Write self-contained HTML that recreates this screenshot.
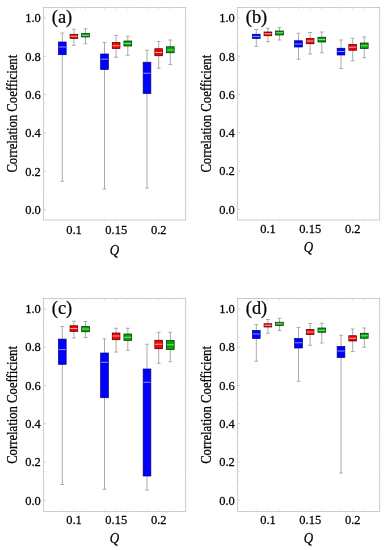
<!DOCTYPE html>
<html><head><meta charset="utf-8"><title>Boxplots</title>
<style>
html,body{margin:0;padding:0;background:#fff;}
svg{display:block;filter:blur(0.3px)}
text{font-family:"Liberation Serif","DejaVu Serif",serif;fill:#000;stroke:#000;stroke-width:0.24px;}
.t{font-size:12.5px}
.yl{font-size:12.7px}
.pl{font-size:18.4px}
.q{font-size:13px;font-style:italic}
</style></head><body>
<svg width="388" height="550" viewBox="0 0 388 550">
<rect width="388" height="550" fill="#fff"/>
<g id="panel-a">
<rect x="43.5" y="7.4" width="142.25" height="212.6" fill="none" stroke="#b2b2b2" stroke-width="0.65"/>
<line x1="43.5" x2="46.2" y1="209.5" y2="209.5" stroke="#d2d2d2" stroke-width="1"/>
<line x1="183.75" x2="185.75" y1="209.5" y2="209.5" stroke="#e2e2e2" stroke-width="1"/>
<line x1="43.5" x2="45.3" y1="199.93" y2="199.93" stroke="#e2e2e2" stroke-width="1"/>
<line x1="184.25" x2="185.75" y1="199.93" y2="199.93" stroke="#e2e2e2" stroke-width="1"/>
<line x1="43.5" x2="45.3" y1="190.35" y2="190.35" stroke="#e2e2e2" stroke-width="1"/>
<line x1="184.25" x2="185.75" y1="190.35" y2="190.35" stroke="#e2e2e2" stroke-width="1"/>
<line x1="43.5" x2="45.3" y1="180.78" y2="180.78" stroke="#e2e2e2" stroke-width="1"/>
<line x1="184.25" x2="185.75" y1="180.78" y2="180.78" stroke="#e2e2e2" stroke-width="1"/>
<line x1="43.5" x2="46.2" y1="171.2" y2="171.2" stroke="#d2d2d2" stroke-width="1"/>
<line x1="183.75" x2="185.75" y1="171.2" y2="171.2" stroke="#e2e2e2" stroke-width="1"/>
<line x1="43.5" x2="45.3" y1="161.62" y2="161.62" stroke="#e2e2e2" stroke-width="1"/>
<line x1="184.25" x2="185.75" y1="161.62" y2="161.62" stroke="#e2e2e2" stroke-width="1"/>
<line x1="43.5" x2="45.3" y1="152.05" y2="152.05" stroke="#e2e2e2" stroke-width="1"/>
<line x1="184.25" x2="185.75" y1="152.05" y2="152.05" stroke="#e2e2e2" stroke-width="1"/>
<line x1="43.5" x2="45.3" y1="142.48" y2="142.48" stroke="#e2e2e2" stroke-width="1"/>
<line x1="184.25" x2="185.75" y1="142.48" y2="142.48" stroke="#e2e2e2" stroke-width="1"/>
<line x1="43.5" x2="46.2" y1="132.9" y2="132.9" stroke="#d2d2d2" stroke-width="1"/>
<line x1="183.75" x2="185.75" y1="132.9" y2="132.9" stroke="#e2e2e2" stroke-width="1"/>
<line x1="43.5" x2="45.3" y1="123.33" y2="123.33" stroke="#e2e2e2" stroke-width="1"/>
<line x1="184.25" x2="185.75" y1="123.33" y2="123.33" stroke="#e2e2e2" stroke-width="1"/>
<line x1="43.5" x2="45.3" y1="113.75" y2="113.75" stroke="#e2e2e2" stroke-width="1"/>
<line x1="184.25" x2="185.75" y1="113.75" y2="113.75" stroke="#e2e2e2" stroke-width="1"/>
<line x1="43.5" x2="45.3" y1="104.18" y2="104.18" stroke="#e2e2e2" stroke-width="1"/>
<line x1="184.25" x2="185.75" y1="104.18" y2="104.18" stroke="#e2e2e2" stroke-width="1"/>
<line x1="43.5" x2="46.2" y1="94.6" y2="94.6" stroke="#d2d2d2" stroke-width="1"/>
<line x1="183.75" x2="185.75" y1="94.6" y2="94.6" stroke="#e2e2e2" stroke-width="1"/>
<line x1="43.5" x2="45.3" y1="85.03" y2="85.03" stroke="#e2e2e2" stroke-width="1"/>
<line x1="184.25" x2="185.75" y1="85.03" y2="85.03" stroke="#e2e2e2" stroke-width="1"/>
<line x1="43.5" x2="45.3" y1="75.45" y2="75.45" stroke="#e2e2e2" stroke-width="1"/>
<line x1="184.25" x2="185.75" y1="75.45" y2="75.45" stroke="#e2e2e2" stroke-width="1"/>
<line x1="43.5" x2="45.3" y1="65.88" y2="65.88" stroke="#e2e2e2" stroke-width="1"/>
<line x1="184.25" x2="185.75" y1="65.88" y2="65.88" stroke="#e2e2e2" stroke-width="1"/>
<line x1="43.5" x2="46.2" y1="56.3" y2="56.3" stroke="#d2d2d2" stroke-width="1"/>
<line x1="183.75" x2="185.75" y1="56.3" y2="56.3" stroke="#e2e2e2" stroke-width="1"/>
<line x1="43.5" x2="45.3" y1="46.73" y2="46.73" stroke="#e2e2e2" stroke-width="1"/>
<line x1="184.25" x2="185.75" y1="46.73" y2="46.73" stroke="#e2e2e2" stroke-width="1"/>
<line x1="43.5" x2="45.3" y1="37.15" y2="37.15" stroke="#e2e2e2" stroke-width="1"/>
<line x1="184.25" x2="185.75" y1="37.15" y2="37.15" stroke="#e2e2e2" stroke-width="1"/>
<line x1="43.5" x2="45.3" y1="27.58" y2="27.58" stroke="#e2e2e2" stroke-width="1"/>
<line x1="184.25" x2="185.75" y1="27.58" y2="27.58" stroke="#e2e2e2" stroke-width="1"/>
<line x1="43.5" x2="46.2" y1="18" y2="18" stroke="#d2d2d2" stroke-width="1"/>
<line x1="183.75" x2="185.75" y1="18" y2="18" stroke="#e2e2e2" stroke-width="1"/>
<line x1="62.3" x2="62.3" y1="218" y2="220" stroke="#e2e2e2" stroke-width="1"/>
<line x1="62.3" x2="62.3" y1="7.4" y2="9.4" stroke="#e2e2e2" stroke-width="1"/>
<line x1="73.9" x2="73.9" y1="218" y2="220" stroke="#e2e2e2" stroke-width="1"/>
<line x1="73.9" x2="73.9" y1="7.4" y2="9.4" stroke="#e2e2e2" stroke-width="1"/>
<line x1="85.5" x2="85.5" y1="218" y2="220" stroke="#e2e2e2" stroke-width="1"/>
<line x1="85.5" x2="85.5" y1="7.4" y2="9.4" stroke="#e2e2e2" stroke-width="1"/>
<line x1="104.5" x2="104.5" y1="218" y2="220" stroke="#e2e2e2" stroke-width="1"/>
<line x1="104.5" x2="104.5" y1="7.4" y2="9.4" stroke="#e2e2e2" stroke-width="1"/>
<line x1="116.1" x2="116.1" y1="218" y2="220" stroke="#e2e2e2" stroke-width="1"/>
<line x1="116.1" x2="116.1" y1="7.4" y2="9.4" stroke="#e2e2e2" stroke-width="1"/>
<line x1="127.8" x2="127.8" y1="218" y2="220" stroke="#e2e2e2" stroke-width="1"/>
<line x1="127.8" x2="127.8" y1="7.4" y2="9.4" stroke="#e2e2e2" stroke-width="1"/>
<line x1="147" x2="147" y1="218" y2="220" stroke="#e2e2e2" stroke-width="1"/>
<line x1="147" x2="147" y1="7.4" y2="9.4" stroke="#e2e2e2" stroke-width="1"/>
<line x1="158.7" x2="158.7" y1="218" y2="220" stroke="#e2e2e2" stroke-width="1"/>
<line x1="158.7" x2="158.7" y1="7.4" y2="9.4" stroke="#e2e2e2" stroke-width="1"/>
<line x1="170.3" x2="170.3" y1="218" y2="220" stroke="#e2e2e2" stroke-width="1"/>
<line x1="170.3" x2="170.3" y1="7.4" y2="9.4" stroke="#e2e2e2" stroke-width="1"/>
<text class="t" transform="translate(40.8 213.8) scale(1 1.05)" text-anchor="end">0.0</text>
<text class="t" transform="translate(40.8 175.5) scale(1 1.05)" text-anchor="end">0.2</text>
<text class="t" transform="translate(40.8 137.2) scale(1 1.05)" text-anchor="end">0.4</text>
<text class="t" transform="translate(40.8 98.9) scale(1 1.05)" text-anchor="end">0.6</text>
<text class="t" transform="translate(40.8 60.6) scale(1 1.05)" text-anchor="end">0.8</text>
<text class="t" transform="translate(40.8 22.3) scale(1 1.05)" text-anchor="end">1.0</text>
<text class="t" transform="translate(74 234.3) scale(1 1.08)" text-anchor="middle">0.1</text>
<text class="t" transform="translate(116.2 234.3) scale(1 1.08)" text-anchor="middle">0.15</text>
<text class="t" transform="translate(158.8 234.3) scale(1 1.08)" text-anchor="middle">0.2</text>
<text class="q" transform="translate(114.5 254.8) scale(1 1.05)" text-anchor="middle">Q</text>
<text class="yl" transform=" translate(17.4 113.7) rotate(-90) scale(1 1.1)" text-anchor="middle">Correlation Coefficient</text>
<text class="pl" x="51.8" y="23">(a)</text>
<path d="M62.3 33V181.25M60.4 33H64.2M60.4 181.25H64.2" stroke="#ababab" stroke-width="1" fill="none"/>
<rect x="58.45" y="42" width="7.7" height="12.7" fill="#0000ff" stroke="#00007a" stroke-width="0.7"/>
<line x1="58.75" x2="65.85" y1="47" y2="47" stroke="#b4bcff" stroke-width="0.8"/>
<path d="M73.9 29.2V45.3M72 29.2H75.8M72 45.3H75.8" stroke="#ababab" stroke-width="1" fill="none"/>
<rect x="70.05" y="34.3" width="7.7" height="4.1" fill="#ff0000" stroke="#3a0000" stroke-width="0.7"/>
<line x1="70.35" x2="77.45" y1="36.3" y2="36.3" stroke="#ffd0d0" stroke-width="0.8"/>
<path d="M85.5 28.8V43.8M83.6 28.8H87.4M83.6 43.8H87.4" stroke="#ababab" stroke-width="1" fill="none"/>
<rect x="81.65" y="33.5" width="7.7" height="3.5" fill="#00a800" stroke="#002400" stroke-width="0.7"/>
<line x1="81.95" x2="89.05" y1="35.3" y2="35.3" stroke="#a0e8a0" stroke-width="0.8"/>
<path d="M104.5 42.5V189M102.6 42.5H106.4M102.6 189H106.4" stroke="#ababab" stroke-width="1" fill="none"/>
<rect x="100.65" y="54" width="7.7" height="15.5" fill="#0000ff" stroke="#00007a" stroke-width="0.7"/>
<line x1="100.95" x2="108.05" y1="59.2" y2="59.2" stroke="#b4bcff" stroke-width="0.8"/>
<path d="M116.1 35.5V57.25M114.2 35.5H118M114.2 57.25H118" stroke="#ababab" stroke-width="1" fill="none"/>
<rect x="112.25" y="42.5" width="7.7" height="6" fill="#ff0000" stroke="#3a0000" stroke-width="0.7"/>
<line x1="112.55" x2="119.65" y1="45.7" y2="45.7" stroke="#ffd0d0" stroke-width="0.8"/>
<path d="M127.8 36.25V55.25M125.9 36.25H129.7M125.9 55.25H129.7" stroke="#ababab" stroke-width="1" fill="none"/>
<rect x="123.95" y="41" width="7.7" height="5" fill="#00a800" stroke="#002400" stroke-width="0.7"/>
<line x1="124.25" x2="131.35" y1="43.5" y2="43.5" stroke="#a0e8a0" stroke-width="0.8"/>
<path d="M147 50.25V188M145.1 50.25H148.9M145.1 188H148.9" stroke="#ababab" stroke-width="1" fill="none"/>
<rect x="143.15" y="62.25" width="7.7" height="31.25" fill="#0000ff" stroke="#00007a" stroke-width="0.7"/>
<line x1="143.45" x2="150.55" y1="73.25" y2="73.25" stroke="#b4bcff" stroke-width="0.8"/>
<path d="M158.7 41.5V68.25M156.8 41.5H160.6M156.8 68.25H160.6" stroke="#ababab" stroke-width="1" fill="none"/>
<rect x="154.85" y="48.75" width="7.7" height="7" fill="#ff0000" stroke="#3a0000" stroke-width="0.7"/>
<line x1="155.15" x2="162.25" y1="52.5" y2="52.5" stroke="#ffd0d0" stroke-width="0.8"/>
<path d="M170.3 40V64.5M168.4 40H172.2M168.4 64.5H172.2" stroke="#ababab" stroke-width="1" fill="none"/>
<rect x="166.45" y="46.75" width="7.7" height="6" fill="#00a800" stroke="#002400" stroke-width="0.7"/>
<line x1="166.75" x2="173.85" y1="50" y2="50" stroke="#a0e8a0" stroke-width="0.8"/>
</g>
<g id="panel-b">
<rect x="237.5" y="7.4" width="142.25" height="212.6" fill="none" stroke="#b2b2b2" stroke-width="0.65"/>
<line x1="237.5" x2="240.2" y1="209.3" y2="209.3" stroke="#d2d2d2" stroke-width="1"/>
<line x1="377.75" x2="379.75" y1="209.3" y2="209.3" stroke="#e2e2e2" stroke-width="1"/>
<line x1="237.5" x2="239.3" y1="199.74" y2="199.74" stroke="#e2e2e2" stroke-width="1"/>
<line x1="378.25" x2="379.75" y1="199.74" y2="199.74" stroke="#e2e2e2" stroke-width="1"/>
<line x1="237.5" x2="239.3" y1="190.17" y2="190.17" stroke="#e2e2e2" stroke-width="1"/>
<line x1="378.25" x2="379.75" y1="190.17" y2="190.17" stroke="#e2e2e2" stroke-width="1"/>
<line x1="237.5" x2="239.3" y1="180.61" y2="180.61" stroke="#e2e2e2" stroke-width="1"/>
<line x1="378.25" x2="379.75" y1="180.61" y2="180.61" stroke="#e2e2e2" stroke-width="1"/>
<line x1="237.5" x2="240.2" y1="171.04" y2="171.04" stroke="#d2d2d2" stroke-width="1"/>
<line x1="377.75" x2="379.75" y1="171.04" y2="171.04" stroke="#e2e2e2" stroke-width="1"/>
<line x1="237.5" x2="239.3" y1="161.48" y2="161.48" stroke="#e2e2e2" stroke-width="1"/>
<line x1="378.25" x2="379.75" y1="161.48" y2="161.48" stroke="#e2e2e2" stroke-width="1"/>
<line x1="237.5" x2="239.3" y1="151.91" y2="151.91" stroke="#e2e2e2" stroke-width="1"/>
<line x1="378.25" x2="379.75" y1="151.91" y2="151.91" stroke="#e2e2e2" stroke-width="1"/>
<line x1="237.5" x2="239.3" y1="142.34" y2="142.34" stroke="#e2e2e2" stroke-width="1"/>
<line x1="378.25" x2="379.75" y1="142.34" y2="142.34" stroke="#e2e2e2" stroke-width="1"/>
<line x1="237.5" x2="240.2" y1="132.78" y2="132.78" stroke="#d2d2d2" stroke-width="1"/>
<line x1="377.75" x2="379.75" y1="132.78" y2="132.78" stroke="#e2e2e2" stroke-width="1"/>
<line x1="237.5" x2="239.3" y1="123.22" y2="123.22" stroke="#e2e2e2" stroke-width="1"/>
<line x1="378.25" x2="379.75" y1="123.22" y2="123.22" stroke="#e2e2e2" stroke-width="1"/>
<line x1="237.5" x2="239.3" y1="113.65" y2="113.65" stroke="#e2e2e2" stroke-width="1"/>
<line x1="378.25" x2="379.75" y1="113.65" y2="113.65" stroke="#e2e2e2" stroke-width="1"/>
<line x1="237.5" x2="239.3" y1="104.08" y2="104.08" stroke="#e2e2e2" stroke-width="1"/>
<line x1="378.25" x2="379.75" y1="104.08" y2="104.08" stroke="#e2e2e2" stroke-width="1"/>
<line x1="237.5" x2="240.2" y1="94.52" y2="94.52" stroke="#d2d2d2" stroke-width="1"/>
<line x1="377.75" x2="379.75" y1="94.52" y2="94.52" stroke="#e2e2e2" stroke-width="1"/>
<line x1="237.5" x2="239.3" y1="84.95" y2="84.95" stroke="#e2e2e2" stroke-width="1"/>
<line x1="378.25" x2="379.75" y1="84.95" y2="84.95" stroke="#e2e2e2" stroke-width="1"/>
<line x1="237.5" x2="239.3" y1="75.39" y2="75.39" stroke="#e2e2e2" stroke-width="1"/>
<line x1="378.25" x2="379.75" y1="75.39" y2="75.39" stroke="#e2e2e2" stroke-width="1"/>
<line x1="237.5" x2="239.3" y1="65.82" y2="65.82" stroke="#e2e2e2" stroke-width="1"/>
<line x1="378.25" x2="379.75" y1="65.82" y2="65.82" stroke="#e2e2e2" stroke-width="1"/>
<line x1="237.5" x2="240.2" y1="56.26" y2="56.26" stroke="#d2d2d2" stroke-width="1"/>
<line x1="377.75" x2="379.75" y1="56.26" y2="56.26" stroke="#e2e2e2" stroke-width="1"/>
<line x1="237.5" x2="239.3" y1="46.69" y2="46.69" stroke="#e2e2e2" stroke-width="1"/>
<line x1="378.25" x2="379.75" y1="46.69" y2="46.69" stroke="#e2e2e2" stroke-width="1"/>
<line x1="237.5" x2="239.3" y1="37.13" y2="37.13" stroke="#e2e2e2" stroke-width="1"/>
<line x1="378.25" x2="379.75" y1="37.13" y2="37.13" stroke="#e2e2e2" stroke-width="1"/>
<line x1="237.5" x2="239.3" y1="27.56" y2="27.56" stroke="#e2e2e2" stroke-width="1"/>
<line x1="378.25" x2="379.75" y1="27.56" y2="27.56" stroke="#e2e2e2" stroke-width="1"/>
<line x1="237.5" x2="240.2" y1="18" y2="18" stroke="#d2d2d2" stroke-width="1"/>
<line x1="377.75" x2="379.75" y1="18" y2="18" stroke="#e2e2e2" stroke-width="1"/>
<line x1="256.3" x2="256.3" y1="218" y2="220" stroke="#e2e2e2" stroke-width="1"/>
<line x1="256.3" x2="256.3" y1="7.4" y2="9.4" stroke="#e2e2e2" stroke-width="1"/>
<line x1="267.9" x2="267.9" y1="218" y2="220" stroke="#e2e2e2" stroke-width="1"/>
<line x1="267.9" x2="267.9" y1="7.4" y2="9.4" stroke="#e2e2e2" stroke-width="1"/>
<line x1="279.5" x2="279.5" y1="218" y2="220" stroke="#e2e2e2" stroke-width="1"/>
<line x1="279.5" x2="279.5" y1="7.4" y2="9.4" stroke="#e2e2e2" stroke-width="1"/>
<line x1="298.5" x2="298.5" y1="218" y2="220" stroke="#e2e2e2" stroke-width="1"/>
<line x1="298.5" x2="298.5" y1="7.4" y2="9.4" stroke="#e2e2e2" stroke-width="1"/>
<line x1="310.1" x2="310.1" y1="218" y2="220" stroke="#e2e2e2" stroke-width="1"/>
<line x1="310.1" x2="310.1" y1="7.4" y2="9.4" stroke="#e2e2e2" stroke-width="1"/>
<line x1="321.8" x2="321.8" y1="218" y2="220" stroke="#e2e2e2" stroke-width="1"/>
<line x1="321.8" x2="321.8" y1="7.4" y2="9.4" stroke="#e2e2e2" stroke-width="1"/>
<line x1="341" x2="341" y1="218" y2="220" stroke="#e2e2e2" stroke-width="1"/>
<line x1="341" x2="341" y1="7.4" y2="9.4" stroke="#e2e2e2" stroke-width="1"/>
<line x1="352.7" x2="352.7" y1="218" y2="220" stroke="#e2e2e2" stroke-width="1"/>
<line x1="352.7" x2="352.7" y1="7.4" y2="9.4" stroke="#e2e2e2" stroke-width="1"/>
<line x1="364.3" x2="364.3" y1="218" y2="220" stroke="#e2e2e2" stroke-width="1"/>
<line x1="364.3" x2="364.3" y1="7.4" y2="9.4" stroke="#e2e2e2" stroke-width="1"/>
<text class="t" transform="translate(234.8 213.6) scale(1 1.05)" text-anchor="end">0.0</text>
<text class="t" transform="translate(234.8 175.34) scale(1 1.05)" text-anchor="end">0.2</text>
<text class="t" transform="translate(234.8 137.08) scale(1 1.05)" text-anchor="end">0.4</text>
<text class="t" transform="translate(234.8 98.82) scale(1 1.05)" text-anchor="end">0.6</text>
<text class="t" transform="translate(234.8 60.56) scale(1 1.05)" text-anchor="end">0.8</text>
<text class="t" transform="translate(234.8 22.3) scale(1 1.05)" text-anchor="end">1.0</text>
<text class="t" transform="translate(268 233.1) scale(1 1.08)" text-anchor="middle">0.1</text>
<text class="t" transform="translate(310.2 233.1) scale(1 1.08)" text-anchor="middle">0.15</text>
<text class="t" transform="translate(352.8 233.1) scale(1 1.08)" text-anchor="middle">0.2</text>
<text class="q" transform="translate(308.5 251.6) scale(1 1.05)" text-anchor="middle">Q</text>
<text class="yl" transform=" translate(211.4 113.7) rotate(-90) scale(1 1.1)" text-anchor="middle">Correlation Coefficient</text>
<text class="pl" x="245.8" y="23">(b)</text>
<path d="M256.3 29.5V46.5M254.4 29.5H258.2M254.4 46.5H258.2" stroke="#ababab" stroke-width="1" fill="none"/>
<rect x="252.45" y="34.25" width="7.7" height="4.25" fill="#0000ff" stroke="#00007a" stroke-width="0.7"/>
<line x1="252.75" x2="259.85" y1="36.5" y2="36.5" stroke="#b4bcff" stroke-width="0.8"/>
<path d="M267.9 28.25V41.75M266 28.25H269.8M266 41.75H269.8" stroke="#ababab" stroke-width="1" fill="none"/>
<rect x="264.05" y="32" width="7.7" height="3.75" fill="#ff0000" stroke="#3a0000" stroke-width="0.7"/>
<line x1="264.35" x2="271.45" y1="33.75" y2="33.75" stroke="#ffd0d0" stroke-width="0.8"/>
<path d="M279.5 27.5V40M277.6 27.5H281.4M277.6 40H281.4" stroke="#ababab" stroke-width="1" fill="none"/>
<rect x="275.65" y="31" width="7.7" height="4" fill="#00a800" stroke="#002400" stroke-width="0.7"/>
<line x1="275.95" x2="283.05" y1="32.75" y2="32.75" stroke="#a0e8a0" stroke-width="0.8"/>
<path d="M298.5 33.25V59.25M296.6 33.25H300.4M296.6 59.25H300.4" stroke="#ababab" stroke-width="1" fill="none"/>
<rect x="294.65" y="40.75" width="7.7" height="6.25" fill="#0000ff" stroke="#00007a" stroke-width="0.7"/>
<line x1="294.95" x2="302.05" y1="44" y2="44" stroke="#b4bcff" stroke-width="0.8"/>
<path d="M310.1 32.5V54M308.2 32.5H312M308.2 54H312" stroke="#ababab" stroke-width="1" fill="none"/>
<rect x="306.25" y="38.5" width="7.7" height="5.25" fill="#ff0000" stroke="#3a0000" stroke-width="0.7"/>
<line x1="306.55" x2="313.65" y1="41" y2="41" stroke="#ffd0d0" stroke-width="0.8"/>
<path d="M321.8 32V52.75M319.9 32H323.7M319.9 52.75H323.7" stroke="#ababab" stroke-width="1" fill="none"/>
<rect x="317.95" y="37.25" width="7.7" height="4.75" fill="#00a800" stroke="#002400" stroke-width="0.7"/>
<line x1="318.25" x2="325.35" y1="39.5" y2="39.5" stroke="#a0e8a0" stroke-width="0.8"/>
<path d="M341 40V68.5M339.1 40H342.9M339.1 68.5H342.9" stroke="#ababab" stroke-width="1" fill="none"/>
<rect x="337.15" y="48.25" width="7.7" height="6.75" fill="#0000ff" stroke="#00007a" stroke-width="0.7"/>
<line x1="337.45" x2="344.55" y1="51.5" y2="51.5" stroke="#b4bcff" stroke-width="0.8"/>
<path d="M352.7 38.25V60.75M350.8 38.25H354.6M350.8 60.75H354.6" stroke="#ababab" stroke-width="1" fill="none"/>
<rect x="348.85" y="44.5" width="7.7" height="5.75" fill="#ff0000" stroke="#3a0000" stroke-width="0.7"/>
<line x1="349.15" x2="356.25" y1="47.25" y2="47.25" stroke="#ffd0d0" stroke-width="0.8"/>
<path d="M364.3 37V57.75M362.4 37H366.2M362.4 57.75H366.2" stroke="#ababab" stroke-width="1" fill="none"/>
<rect x="360.45" y="43" width="7.7" height="5.5" fill="#00a800" stroke="#002400" stroke-width="0.7"/>
<line x1="360.75" x2="367.85" y1="45.75" y2="45.75" stroke="#a0e8a0" stroke-width="0.8"/>
</g>
<g id="panel-c">
<rect x="43.5" y="298.5" width="142.25" height="212.9" fill="none" stroke="#b2b2b2" stroke-width="0.65"/>
<line x1="43.5" x2="46.2" y1="500.2" y2="500.2" stroke="#d2d2d2" stroke-width="1"/>
<line x1="183.75" x2="185.75" y1="500.2" y2="500.2" stroke="#e2e2e2" stroke-width="1"/>
<line x1="43.5" x2="45.3" y1="490.63" y2="490.63" stroke="#e2e2e2" stroke-width="1"/>
<line x1="184.25" x2="185.75" y1="490.63" y2="490.63" stroke="#e2e2e2" stroke-width="1"/>
<line x1="43.5" x2="45.3" y1="481.07" y2="481.07" stroke="#e2e2e2" stroke-width="1"/>
<line x1="184.25" x2="185.75" y1="481.07" y2="481.07" stroke="#e2e2e2" stroke-width="1"/>
<line x1="43.5" x2="45.3" y1="471.5" y2="471.5" stroke="#e2e2e2" stroke-width="1"/>
<line x1="184.25" x2="185.75" y1="471.5" y2="471.5" stroke="#e2e2e2" stroke-width="1"/>
<line x1="43.5" x2="46.2" y1="461.94" y2="461.94" stroke="#d2d2d2" stroke-width="1"/>
<line x1="183.75" x2="185.75" y1="461.94" y2="461.94" stroke="#e2e2e2" stroke-width="1"/>
<line x1="43.5" x2="45.3" y1="452.38" y2="452.38" stroke="#e2e2e2" stroke-width="1"/>
<line x1="184.25" x2="185.75" y1="452.38" y2="452.38" stroke="#e2e2e2" stroke-width="1"/>
<line x1="43.5" x2="45.3" y1="442.81" y2="442.81" stroke="#e2e2e2" stroke-width="1"/>
<line x1="184.25" x2="185.75" y1="442.81" y2="442.81" stroke="#e2e2e2" stroke-width="1"/>
<line x1="43.5" x2="45.3" y1="433.25" y2="433.25" stroke="#e2e2e2" stroke-width="1"/>
<line x1="184.25" x2="185.75" y1="433.25" y2="433.25" stroke="#e2e2e2" stroke-width="1"/>
<line x1="43.5" x2="46.2" y1="423.68" y2="423.68" stroke="#d2d2d2" stroke-width="1"/>
<line x1="183.75" x2="185.75" y1="423.68" y2="423.68" stroke="#e2e2e2" stroke-width="1"/>
<line x1="43.5" x2="45.3" y1="414.12" y2="414.12" stroke="#e2e2e2" stroke-width="1"/>
<line x1="184.25" x2="185.75" y1="414.12" y2="414.12" stroke="#e2e2e2" stroke-width="1"/>
<line x1="43.5" x2="45.3" y1="404.55" y2="404.55" stroke="#e2e2e2" stroke-width="1"/>
<line x1="184.25" x2="185.75" y1="404.55" y2="404.55" stroke="#e2e2e2" stroke-width="1"/>
<line x1="43.5" x2="45.3" y1="394.98" y2="394.98" stroke="#e2e2e2" stroke-width="1"/>
<line x1="184.25" x2="185.75" y1="394.98" y2="394.98" stroke="#e2e2e2" stroke-width="1"/>
<line x1="43.5" x2="46.2" y1="385.42" y2="385.42" stroke="#d2d2d2" stroke-width="1"/>
<line x1="183.75" x2="185.75" y1="385.42" y2="385.42" stroke="#e2e2e2" stroke-width="1"/>
<line x1="43.5" x2="45.3" y1="375.85" y2="375.85" stroke="#e2e2e2" stroke-width="1"/>
<line x1="184.25" x2="185.75" y1="375.85" y2="375.85" stroke="#e2e2e2" stroke-width="1"/>
<line x1="43.5" x2="45.3" y1="366.29" y2="366.29" stroke="#e2e2e2" stroke-width="1"/>
<line x1="184.25" x2="185.75" y1="366.29" y2="366.29" stroke="#e2e2e2" stroke-width="1"/>
<line x1="43.5" x2="45.3" y1="356.72" y2="356.72" stroke="#e2e2e2" stroke-width="1"/>
<line x1="184.25" x2="185.75" y1="356.72" y2="356.72" stroke="#e2e2e2" stroke-width="1"/>
<line x1="43.5" x2="46.2" y1="347.16" y2="347.16" stroke="#d2d2d2" stroke-width="1"/>
<line x1="183.75" x2="185.75" y1="347.16" y2="347.16" stroke="#e2e2e2" stroke-width="1"/>
<line x1="43.5" x2="45.3" y1="337.59" y2="337.59" stroke="#e2e2e2" stroke-width="1"/>
<line x1="184.25" x2="185.75" y1="337.59" y2="337.59" stroke="#e2e2e2" stroke-width="1"/>
<line x1="43.5" x2="45.3" y1="328.03" y2="328.03" stroke="#e2e2e2" stroke-width="1"/>
<line x1="184.25" x2="185.75" y1="328.03" y2="328.03" stroke="#e2e2e2" stroke-width="1"/>
<line x1="43.5" x2="45.3" y1="318.46" y2="318.46" stroke="#e2e2e2" stroke-width="1"/>
<line x1="184.25" x2="185.75" y1="318.46" y2="318.46" stroke="#e2e2e2" stroke-width="1"/>
<line x1="43.5" x2="46.2" y1="308.9" y2="308.9" stroke="#d2d2d2" stroke-width="1"/>
<line x1="183.75" x2="185.75" y1="308.9" y2="308.9" stroke="#e2e2e2" stroke-width="1"/>
<line x1="62.3" x2="62.3" y1="509.4" y2="511.4" stroke="#e2e2e2" stroke-width="1"/>
<line x1="62.3" x2="62.3" y1="298.5" y2="300.5" stroke="#e2e2e2" stroke-width="1"/>
<line x1="73.9" x2="73.9" y1="509.4" y2="511.4" stroke="#e2e2e2" stroke-width="1"/>
<line x1="73.9" x2="73.9" y1="298.5" y2="300.5" stroke="#e2e2e2" stroke-width="1"/>
<line x1="85.5" x2="85.5" y1="509.4" y2="511.4" stroke="#e2e2e2" stroke-width="1"/>
<line x1="85.5" x2="85.5" y1="298.5" y2="300.5" stroke="#e2e2e2" stroke-width="1"/>
<line x1="104.5" x2="104.5" y1="509.4" y2="511.4" stroke="#e2e2e2" stroke-width="1"/>
<line x1="104.5" x2="104.5" y1="298.5" y2="300.5" stroke="#e2e2e2" stroke-width="1"/>
<line x1="116.1" x2="116.1" y1="509.4" y2="511.4" stroke="#e2e2e2" stroke-width="1"/>
<line x1="116.1" x2="116.1" y1="298.5" y2="300.5" stroke="#e2e2e2" stroke-width="1"/>
<line x1="127.8" x2="127.8" y1="509.4" y2="511.4" stroke="#e2e2e2" stroke-width="1"/>
<line x1="127.8" x2="127.8" y1="298.5" y2="300.5" stroke="#e2e2e2" stroke-width="1"/>
<line x1="147" x2="147" y1="509.4" y2="511.4" stroke="#e2e2e2" stroke-width="1"/>
<line x1="147" x2="147" y1="298.5" y2="300.5" stroke="#e2e2e2" stroke-width="1"/>
<line x1="158.7" x2="158.7" y1="509.4" y2="511.4" stroke="#e2e2e2" stroke-width="1"/>
<line x1="158.7" x2="158.7" y1="298.5" y2="300.5" stroke="#e2e2e2" stroke-width="1"/>
<line x1="170.3" x2="170.3" y1="509.4" y2="511.4" stroke="#e2e2e2" stroke-width="1"/>
<line x1="170.3" x2="170.3" y1="298.5" y2="300.5" stroke="#e2e2e2" stroke-width="1"/>
<text class="t" transform="translate(40.8 504.5) scale(1 1.05)" text-anchor="end">0.0</text>
<text class="t" transform="translate(40.8 466.24) scale(1 1.05)" text-anchor="end">0.2</text>
<text class="t" transform="translate(40.8 427.98) scale(1 1.05)" text-anchor="end">0.4</text>
<text class="t" transform="translate(40.8 389.72) scale(1 1.05)" text-anchor="end">0.6</text>
<text class="t" transform="translate(40.8 351.46) scale(1 1.05)" text-anchor="end">0.8</text>
<text class="t" transform="translate(40.8 313.2) scale(1 1.05)" text-anchor="end">1.0</text>
<text class="t" transform="translate(74 524.3) scale(1 1.08)" text-anchor="middle">0.1</text>
<text class="t" transform="translate(116.2 524.3) scale(1 1.08)" text-anchor="middle">0.15</text>
<text class="t" transform="translate(158.8 524.3) scale(1 1.08)" text-anchor="middle">0.2</text>
<text class="q" transform="translate(114.5 542.8) scale(1 1.05)" text-anchor="middle">Q</text>
<text class="yl" transform=" translate(17.4 404.95) rotate(-90) scale(1 1.1)" text-anchor="middle">Correlation Coefficient</text>
<text class="pl" x="51.8" y="314.1">(c)</text>
<path d="M62.3 326.5V484.5M60.4 326.5H64.2M60.4 484.5H64.2" stroke="#ababab" stroke-width="1" fill="none"/>
<rect x="58.45" y="339.1" width="7.7" height="25.2" fill="#0000ff" stroke="#00007a" stroke-width="0.7"/>
<line x1="58.75" x2="65.85" y1="349.6" y2="349.6" stroke="#b4bcff" stroke-width="0.8"/>
<path d="M73.9 321.25V338M72 321.25H75.8M72 338H75.8" stroke="#ababab" stroke-width="1" fill="none"/>
<rect x="70.05" y="325.75" width="7.7" height="5.75" fill="#ff0000" stroke="#3a0000" stroke-width="0.7"/>
<line x1="70.35" x2="77.45" y1="328.5" y2="328.5" stroke="#ffd0d0" stroke-width="0.8"/>
<path d="M85.5 321.5V337.5M83.6 321.5H87.4M83.6 337.5H87.4" stroke="#ababab" stroke-width="1" fill="none"/>
<rect x="81.65" y="326.5" width="7.7" height="5.25" fill="#00a800" stroke="#002400" stroke-width="0.7"/>
<line x1="81.95" x2="89.05" y1="329" y2="329" stroke="#a0e8a0" stroke-width="0.8"/>
<path d="M104.5 338.75V489.25M102.6 338.75H106.4M102.6 489.25H106.4" stroke="#ababab" stroke-width="1" fill="none"/>
<rect x="100.65" y="353" width="7.7" height="44.75" fill="#0000ff" stroke="#00007a" stroke-width="0.7"/>
<line x1="100.95" x2="108.05" y1="362.25" y2="362.25" stroke="#b4bcff" stroke-width="0.8"/>
<path d="M116.1 328.25V352M114.2 328.25H118M114.2 352H118" stroke="#ababab" stroke-width="1" fill="none"/>
<rect x="112.25" y="333" width="7.7" height="6.75" fill="#ff0000" stroke="#3a0000" stroke-width="0.7"/>
<line x1="112.55" x2="119.65" y1="336" y2="336" stroke="#ffd0d0" stroke-width="0.8"/>
<path d="M127.8 328.25V350.25M125.9 328.25H129.7M125.9 350.25H129.7" stroke="#ababab" stroke-width="1" fill="none"/>
<rect x="123.95" y="334" width="7.7" height="6.5" fill="#00a800" stroke="#002400" stroke-width="0.7"/>
<line x1="124.25" x2="131.35" y1="337.25" y2="337.25" stroke="#a0e8a0" stroke-width="0.8"/>
<path d="M147 344.25V490M145.1 344.25H148.9M145.1 490H148.9" stroke="#ababab" stroke-width="1" fill="none"/>
<rect x="143.15" y="369" width="7.7" height="107" fill="#0000ff" stroke="#00007a" stroke-width="0.7"/>
<line x1="143.45" x2="150.55" y1="382.25" y2="382.25" stroke="#b4bcff" stroke-width="0.8"/>
<path d="M158.7 332.25V363.25M156.8 332.25H160.6M156.8 363.25H160.6" stroke="#ababab" stroke-width="1" fill="none"/>
<rect x="154.85" y="340.25" width="7.7" height="8.5" fill="#ff0000" stroke="#3a0000" stroke-width="0.7"/>
<line x1="155.15" x2="162.25" y1="344.25" y2="344.25" stroke="#ffd0d0" stroke-width="0.8"/>
<path d="M170.3 332.25V361.75M168.4 332.25H172.2M168.4 361.75H172.2" stroke="#ababab" stroke-width="1" fill="none"/>
<rect x="166.45" y="340.5" width="7.7" height="9" fill="#00a800" stroke="#002400" stroke-width="0.7"/>
<line x1="166.75" x2="173.85" y1="344.75" y2="344.75" stroke="#a0e8a0" stroke-width="0.8"/>
</g>
<g id="panel-d">
<rect x="237.5" y="298.5" width="142.25" height="212.9" fill="none" stroke="#b2b2b2" stroke-width="0.65"/>
<line x1="237.5" x2="240.2" y1="500.2" y2="500.2" stroke="#d2d2d2" stroke-width="1"/>
<line x1="377.75" x2="379.75" y1="500.2" y2="500.2" stroke="#e2e2e2" stroke-width="1"/>
<line x1="237.5" x2="239.3" y1="490.63" y2="490.63" stroke="#e2e2e2" stroke-width="1"/>
<line x1="378.25" x2="379.75" y1="490.63" y2="490.63" stroke="#e2e2e2" stroke-width="1"/>
<line x1="237.5" x2="239.3" y1="481.07" y2="481.07" stroke="#e2e2e2" stroke-width="1"/>
<line x1="378.25" x2="379.75" y1="481.07" y2="481.07" stroke="#e2e2e2" stroke-width="1"/>
<line x1="237.5" x2="239.3" y1="471.5" y2="471.5" stroke="#e2e2e2" stroke-width="1"/>
<line x1="378.25" x2="379.75" y1="471.5" y2="471.5" stroke="#e2e2e2" stroke-width="1"/>
<line x1="237.5" x2="240.2" y1="461.94" y2="461.94" stroke="#d2d2d2" stroke-width="1"/>
<line x1="377.75" x2="379.75" y1="461.94" y2="461.94" stroke="#e2e2e2" stroke-width="1"/>
<line x1="237.5" x2="239.3" y1="452.38" y2="452.38" stroke="#e2e2e2" stroke-width="1"/>
<line x1="378.25" x2="379.75" y1="452.38" y2="452.38" stroke="#e2e2e2" stroke-width="1"/>
<line x1="237.5" x2="239.3" y1="442.81" y2="442.81" stroke="#e2e2e2" stroke-width="1"/>
<line x1="378.25" x2="379.75" y1="442.81" y2="442.81" stroke="#e2e2e2" stroke-width="1"/>
<line x1="237.5" x2="239.3" y1="433.25" y2="433.25" stroke="#e2e2e2" stroke-width="1"/>
<line x1="378.25" x2="379.75" y1="433.25" y2="433.25" stroke="#e2e2e2" stroke-width="1"/>
<line x1="237.5" x2="240.2" y1="423.68" y2="423.68" stroke="#d2d2d2" stroke-width="1"/>
<line x1="377.75" x2="379.75" y1="423.68" y2="423.68" stroke="#e2e2e2" stroke-width="1"/>
<line x1="237.5" x2="239.3" y1="414.12" y2="414.12" stroke="#e2e2e2" stroke-width="1"/>
<line x1="378.25" x2="379.75" y1="414.12" y2="414.12" stroke="#e2e2e2" stroke-width="1"/>
<line x1="237.5" x2="239.3" y1="404.55" y2="404.55" stroke="#e2e2e2" stroke-width="1"/>
<line x1="378.25" x2="379.75" y1="404.55" y2="404.55" stroke="#e2e2e2" stroke-width="1"/>
<line x1="237.5" x2="239.3" y1="394.98" y2="394.98" stroke="#e2e2e2" stroke-width="1"/>
<line x1="378.25" x2="379.75" y1="394.98" y2="394.98" stroke="#e2e2e2" stroke-width="1"/>
<line x1="237.5" x2="240.2" y1="385.42" y2="385.42" stroke="#d2d2d2" stroke-width="1"/>
<line x1="377.75" x2="379.75" y1="385.42" y2="385.42" stroke="#e2e2e2" stroke-width="1"/>
<line x1="237.5" x2="239.3" y1="375.85" y2="375.85" stroke="#e2e2e2" stroke-width="1"/>
<line x1="378.25" x2="379.75" y1="375.85" y2="375.85" stroke="#e2e2e2" stroke-width="1"/>
<line x1="237.5" x2="239.3" y1="366.29" y2="366.29" stroke="#e2e2e2" stroke-width="1"/>
<line x1="378.25" x2="379.75" y1="366.29" y2="366.29" stroke="#e2e2e2" stroke-width="1"/>
<line x1="237.5" x2="239.3" y1="356.72" y2="356.72" stroke="#e2e2e2" stroke-width="1"/>
<line x1="378.25" x2="379.75" y1="356.72" y2="356.72" stroke="#e2e2e2" stroke-width="1"/>
<line x1="237.5" x2="240.2" y1="347.16" y2="347.16" stroke="#d2d2d2" stroke-width="1"/>
<line x1="377.75" x2="379.75" y1="347.16" y2="347.16" stroke="#e2e2e2" stroke-width="1"/>
<line x1="237.5" x2="239.3" y1="337.59" y2="337.59" stroke="#e2e2e2" stroke-width="1"/>
<line x1="378.25" x2="379.75" y1="337.59" y2="337.59" stroke="#e2e2e2" stroke-width="1"/>
<line x1="237.5" x2="239.3" y1="328.03" y2="328.03" stroke="#e2e2e2" stroke-width="1"/>
<line x1="378.25" x2="379.75" y1="328.03" y2="328.03" stroke="#e2e2e2" stroke-width="1"/>
<line x1="237.5" x2="239.3" y1="318.46" y2="318.46" stroke="#e2e2e2" stroke-width="1"/>
<line x1="378.25" x2="379.75" y1="318.46" y2="318.46" stroke="#e2e2e2" stroke-width="1"/>
<line x1="237.5" x2="240.2" y1="308.9" y2="308.9" stroke="#d2d2d2" stroke-width="1"/>
<line x1="377.75" x2="379.75" y1="308.9" y2="308.9" stroke="#e2e2e2" stroke-width="1"/>
<line x1="256.3" x2="256.3" y1="509.4" y2="511.4" stroke="#e2e2e2" stroke-width="1"/>
<line x1="256.3" x2="256.3" y1="298.5" y2="300.5" stroke="#e2e2e2" stroke-width="1"/>
<line x1="267.9" x2="267.9" y1="509.4" y2="511.4" stroke="#e2e2e2" stroke-width="1"/>
<line x1="267.9" x2="267.9" y1="298.5" y2="300.5" stroke="#e2e2e2" stroke-width="1"/>
<line x1="279.5" x2="279.5" y1="509.4" y2="511.4" stroke="#e2e2e2" stroke-width="1"/>
<line x1="279.5" x2="279.5" y1="298.5" y2="300.5" stroke="#e2e2e2" stroke-width="1"/>
<line x1="298.5" x2="298.5" y1="509.4" y2="511.4" stroke="#e2e2e2" stroke-width="1"/>
<line x1="298.5" x2="298.5" y1="298.5" y2="300.5" stroke="#e2e2e2" stroke-width="1"/>
<line x1="310.1" x2="310.1" y1="509.4" y2="511.4" stroke="#e2e2e2" stroke-width="1"/>
<line x1="310.1" x2="310.1" y1="298.5" y2="300.5" stroke="#e2e2e2" stroke-width="1"/>
<line x1="321.8" x2="321.8" y1="509.4" y2="511.4" stroke="#e2e2e2" stroke-width="1"/>
<line x1="321.8" x2="321.8" y1="298.5" y2="300.5" stroke="#e2e2e2" stroke-width="1"/>
<line x1="341" x2="341" y1="509.4" y2="511.4" stroke="#e2e2e2" stroke-width="1"/>
<line x1="341" x2="341" y1="298.5" y2="300.5" stroke="#e2e2e2" stroke-width="1"/>
<line x1="352.7" x2="352.7" y1="509.4" y2="511.4" stroke="#e2e2e2" stroke-width="1"/>
<line x1="352.7" x2="352.7" y1="298.5" y2="300.5" stroke="#e2e2e2" stroke-width="1"/>
<line x1="364.3" x2="364.3" y1="509.4" y2="511.4" stroke="#e2e2e2" stroke-width="1"/>
<line x1="364.3" x2="364.3" y1="298.5" y2="300.5" stroke="#e2e2e2" stroke-width="1"/>
<text class="t" transform="translate(234.8 504.5) scale(1 1.05)" text-anchor="end">0.0</text>
<text class="t" transform="translate(234.8 466.24) scale(1 1.05)" text-anchor="end">0.2</text>
<text class="t" transform="translate(234.8 427.98) scale(1 1.05)" text-anchor="end">0.4</text>
<text class="t" transform="translate(234.8 389.72) scale(1 1.05)" text-anchor="end">0.6</text>
<text class="t" transform="translate(234.8 351.46) scale(1 1.05)" text-anchor="end">0.8</text>
<text class="t" transform="translate(234.8 313.2) scale(1 1.05)" text-anchor="end">1.0</text>
<text class="t" transform="translate(268 524.3) scale(1 1.08)" text-anchor="middle">0.1</text>
<text class="t" transform="translate(310.2 524.3) scale(1 1.08)" text-anchor="middle">0.15</text>
<text class="t" transform="translate(352.8 524.3) scale(1 1.08)" text-anchor="middle">0.2</text>
<text class="q" transform="translate(308.5 542.8) scale(1 1.05)" text-anchor="middle">Q</text>
<text class="yl" transform=" translate(211.4 404.95) rotate(-90) scale(1 1.1)" text-anchor="middle">Correlation Coefficient</text>
<text class="pl" x="245.8" y="314.1">(d)</text>
<path d="M256.3 324.5V361.25M254.4 324.5H258.2M254.4 361.25H258.2" stroke="#ababab" stroke-width="1" fill="none"/>
<rect x="252.45" y="330.5" width="7.7" height="8" fill="#0000ff" stroke="#00007a" stroke-width="0.7"/>
<line x1="252.75" x2="259.85" y1="334" y2="334" stroke="#b4bcff" stroke-width="0.8"/>
<path d="M267.9 319.5V333.25M266 319.5H269.8M266 333.25H269.8" stroke="#ababab" stroke-width="1" fill="none"/>
<rect x="264.05" y="323.75" width="7.7" height="3.25" fill="#ff0000" stroke="#3a0000" stroke-width="0.7"/>
<line x1="264.35" x2="271.45" y1="325.25" y2="325.25" stroke="#ffd0d0" stroke-width="0.8"/>
<path d="M279.5 318.25V330.5M277.6 318.25H281.4M277.6 330.5H281.4" stroke="#ababab" stroke-width="1" fill="none"/>
<rect x="275.65" y="322.25" width="7.7" height="3.25" fill="#00a800" stroke="#002400" stroke-width="0.7"/>
<line x1="275.95" x2="283.05" y1="323.75" y2="323.75" stroke="#a0e8a0" stroke-width="0.8"/>
<path d="M298.5 327.5V381.25M296.6 327.5H300.4M296.6 381.25H300.4" stroke="#ababab" stroke-width="1" fill="none"/>
<rect x="294.65" y="338.5" width="7.7" height="9.5" fill="#0000ff" stroke="#00007a" stroke-width="0.7"/>
<line x1="294.95" x2="302.05" y1="342.75" y2="342.75" stroke="#b4bcff" stroke-width="0.8"/>
<path d="M310.1 323.5V345.25M308.2 323.5H312M308.2 345.25H312" stroke="#ababab" stroke-width="1" fill="none"/>
<rect x="306.25" y="329.5" width="7.7" height="5" fill="#ff0000" stroke="#3a0000" stroke-width="0.7"/>
<line x1="306.55" x2="313.65" y1="332" y2="332" stroke="#ffd0d0" stroke-width="0.8"/>
<path d="M321.8 323.25V343M319.9 323.25H323.7M319.9 343H323.7" stroke="#ababab" stroke-width="1" fill="none"/>
<rect x="317.95" y="328" width="7.7" height="4.25" fill="#00a800" stroke="#002400" stroke-width="0.7"/>
<line x1="318.25" x2="325.35" y1="330.25" y2="330.25" stroke="#a0e8a0" stroke-width="0.8"/>
<path d="M341 335.25V473M339.1 335.25H342.9M339.1 473H342.9" stroke="#ababab" stroke-width="1" fill="none"/>
<rect x="337.15" y="346.5" width="7.7" height="11" fill="#0000ff" stroke="#00007a" stroke-width="0.7"/>
<line x1="337.45" x2="344.55" y1="351" y2="351" stroke="#b4bcff" stroke-width="0.8"/>
<path d="M352.7 329V351.5M350.8 329H354.6M350.8 351.5H354.6" stroke="#ababab" stroke-width="1" fill="none"/>
<rect x="348.85" y="335.75" width="7.7" height="5.25" fill="#ff0000" stroke="#3a0000" stroke-width="0.7"/>
<line x1="349.15" x2="356.25" y1="338.25" y2="338.25" stroke="#ffd0d0" stroke-width="0.8"/>
<path d="M364.3 328V347.25M362.4 328H366.2M362.4 347.25H366.2" stroke="#ababab" stroke-width="1" fill="none"/>
<rect x="360.45" y="333.25" width="7.7" height="5" fill="#00a800" stroke="#002400" stroke-width="0.7"/>
<line x1="360.75" x2="367.85" y1="335.75" y2="335.75" stroke="#a0e8a0" stroke-width="0.8"/>
</g>
</svg>
</body></html>
